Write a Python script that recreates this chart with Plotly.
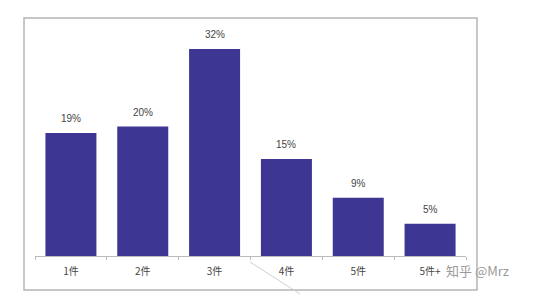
import plotly.graph_objects as go

categories = ["1件", "2件", "3件", "4件", "5件", "5件+"]
values = [19, 20, 32, 15, 9, 5]
labels = ["19%", "20%", "32%", "15%", "9%", "5%"]

fig = go.Figure()
fig.add_trace(go.Bar(
    x=categories, y=values,
    marker=dict(color="#3e3693", line=dict(width=0)),
    cliponaxis=False,
))

annotations = [
    dict(x=c, y=v, text=t, xref="x", yref="y", showarrow=False,
         yanchor="bottom", yshift=7,
         font=dict(size=10, color="#444", family="Liberation Sans, Arial"))
    for c, v, t in zip(categories, values, labels)
]
annotations.append(
    dict(text="知乎 @Mrz", xref="paper", yref="paper", x=(444 - 35) / 431, y=(256 - 270) / 226,
         xanchor="left", yanchor="middle", showarrow=False,
         font=dict(size=13, color="#9a9a9a", family="Noto Sans CJK SC"))
)

fig.update_layout(
    width=544, height=298,
    margin=dict(l=35, r=78, t=30, b=42),
    paper_bgcolor="white", plot_bgcolor="white",
    bargap=0.29, showlegend=False,
    xaxis=dict(showline=True, linecolor="#bbbbbb", linewidth=1,
               ticks="outside", tickson="boundaries", ticklen=3, tickcolor="#bbbbbb",
               ticklabelstandoff=6,
               tickfont=dict(size=10, color="#444", family="Noto Sans CJK SC"),
               showgrid=False),
    yaxis=dict(range=[0, 34.93], visible=False, showgrid=False),
    shapes=[
        dict(type="rect", xref="paper", yref="paper", x0=-0.0255, x1=1.0255,
             y0=-0.150, y1=1.053, line=dict(color="#b5b5b5", width=1.5)),
        dict(type="line", xref="paper", yref="paper", x0=(250 - 35) / 431, x1=(300 - 35) / 431,
             y0=(256 - 262) / 226, y1=(256 - 294) / 226, line=dict(color="#cfcfcf", width=1)),
    ],
    annotations=annotations,
)

fig.write_html("out.html")
